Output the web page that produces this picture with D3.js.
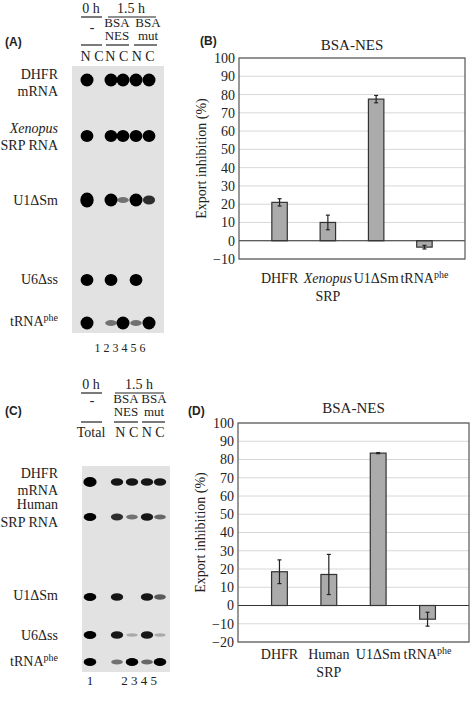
<!DOCTYPE html>
<meta charset="utf-8">
<script src="https://cdn.jsdelivr.net/npm/d3@7"></script>
<style>
body { margin:0; background:#fff; }
text { font-family: "Liberation Serif", "Times New Roman", Tinos, "DejaVu Serif", serif; fill:#222; }
text.lab { font-family: "Liberation Sans", Arial, sans-serif; font-weight:bold; font-size:12px; }
</style>
<body>
<svg id="fig" width="474" height="715"></svg>
<script>
// ---- bar chart data ----
var catsB = [["DHFR"], ["Xenopus", "SRP"], ["U1\u0394Sm"], ["tRNA"]];
var valsB = [21, 10, 77.5, -3.5];
var errB  = [2, 4, 2, 1];
var catsD = [["DHFR"], ["Human", "SRP"], ["U1\u0394Sm"], ["tRNA"]];
var valsD = [18.5, 17, 83.5, -7.5];
var errD  = [6.5, 11, 0.3, 3.8];

// ---- gel data (band strength per lane) ----
var gelA = [
  [1, 0, 1, 1, 1, 1],
  [0.9, 0, 0.9, 0.9, 0.9, 0.9],
  [1.2, 0, 1, 0.3, 1, 0.6],
  [0.9, 0, 0.9, 0, 0.9, 0],
  [1, 0, 0.3, 1, 0.3, 1]
];
var gelC = [
  [1.1, 0.7, 0.7, 0.7, 0.7],
  [0.8, 0.6, 0.3, 0.7, 0.35],
  [0.8, 0.7, 0, 0.7, 0.4],
  [0.8, 0.7, 0.05, 0.7, 0.05],
  [0.8, 0.3, 0.8, 0.35, 0.8]
];

var svg = d3.select("#fig");

function gel(o) {
  var g = svg.append("g");
  g.append("rect").attr("x", o.x0).attr("y", o.y0)
    .attr("width", o.x1 - o.x0).attr("height", o.y1 - o.y0)
    .attr("fill", "#e2e2e2");
  o.data.forEach(function(row, i) {
    row.forEach(function(d, j) {
      if (d <= 0) return;
      g.append("ellipse")
        .attr("cx", o.laneX[j]).attr("cy", o.rowY[i])
        .attr("rx", o.rx + Math.min(d, 1.2)).attr("ry", 1.5 + o.ry * d)
        .attr("fill", "#000").attr("opacity", Math.min(1, 0.2 + d));
    });
  });
}

gel({x0: 72, x1: 164, y0: 66, y1: 333, laneX: [87, 99, 111, 123, 136, 149],
     rowY: [80, 136, 200, 280, 323], data: gelA, rx: 5.5, ry: 5});
gel({x0: 82, x1: 170, y0: 466, y1: 672, laneX: [90, 117, 132, 147, 160],
     rowY: [482, 517, 597, 635, 662], data: gelC, rx: 5.5, ry: 3.2});

function txt(x, y, s, opts) {
  opts = opts || {};
  var t = svg.append("text").attr("x", x).attr("y", y).text(s)
    .attr("font-size", opts.size || 14)
    .attr("text-anchor", opts.anchor || "middle");
  if (opts.italic) t.attr("font-style", "italic");
  if (opts.cls) t.attr("class", opts.cls);
  return t;
}
function line(x1, y1, x2, y2) {
  svg.append("line").attr("x1", x1).attr("y1", y1).attr("x2", x2).attr("y2", y2)
    .attr("stroke", "#222").attr("stroke-width", 1.2);
}
function tRNA(x, y, anchor) {
  var t = svg.append("text").attr("x", x).attr("y", y).attr("font-size", 14)
    .attr("text-anchor", anchor);
  t.append("tspan").text("tRNA");
  t.append("tspan").text("phe").attr("font-size", 10).attr("dy", -5);
}

// Panel A labels
txt(5, 46, "(A)", {anchor: "start", cls: "lab"});
txt(91, 13, "0 h"); line(81, 17, 102, 17);
txt(131, 13, "1.5 h"); line(108, 17, 156, 17);
txt(92, 32, "-");
txt(117, 27, "BSA", {size: 13}); txt(117, 40, "NES", {size: 13});
txt(148, 27, "BSA", {size: 13}); txt(148, 40, "mut", {size: 13});
line(81, 45, 102, 45); line(106, 45, 129, 45); line(134, 45, 157, 45);
txt(92, 61, "N C"); txt(130, 61, "N C N C");
txt(58, 79, "DHFR", {anchor: "end"}); txt(58, 96, "mRNA", {anchor: "end"});
txt(58, 133, "Xenopus", {anchor: "end", italic: true}); txt(58, 150, "SRP RNA", {anchor: "end"});
txt(58, 205, "U1\u0394Sm", {anchor: "end"});
txt(58, 284, "U6\u0394ss", {anchor: "end"});
tRNA(58, 326, "end");
txt(120, 352, "1  2  3  4  5  6", {size: 12});

// Panel C labels
txt(5, 415, "(C)", {anchor: "start", cls: "lab"});
txt(91, 389, "0 h"); line(81, 393, 102, 393);
txt(139, 389, "1.5 h"); line(115, 393, 164, 393);
txt(92, 405, "-");
txt(126, 403, "BSA", {size: 13}); txt(126, 416, "NES", {size: 13});
txt(154, 403, "BSA", {size: 13}); txt(154, 416, "mut", {size: 13});
line(81, 422, 102, 422); line(114, 422, 138, 422); line(142, 422, 165, 422);
txt(91, 437, "Total"); txt(140, 437, "N C N C");
txt(58, 478, "DHFR", {anchor: "end"}); txt(58, 495, "mRNA", {anchor: "end"});
txt(58, 509, "Human", {anchor: "end"}); txt(58, 527, "SRP RNA", {anchor: "end"});
txt(58, 600, "U1\u0394Sm", {anchor: "end"});
txt(58, 640, "U6\u0394ss", {anchor: "end"});
tRNA(58, 666, "end");
txt(90, 685, "1", {size: 13}); txt(139, 685, "2  3  4  5", {size: 13});

// Bar charts
function barChart(o) {
  var y = d3.scaleLinear().domain(o.domain).range([o.y1, o.y0]);
  var x = d3.scaleBand().domain(d3.range(o.vals.length)).range([o.x0, o.x1]).padding(0.68);
  var g = svg.append("g");
  g.selectAll(".grid").data(y.ticks(o.nt)).enter().append("line")
    .attr("x1", o.x0).attr("x2", o.x1).attr("y1", d => y(d)).attr("y2", d => y(d))
    .attr("stroke", "#d8d8d8");
  g.append("g").attr("transform", "translate(" + o.x0 + ",0)")
    .call(d3.axisLeft(y).ticks(o.nt).tickSize(0).tickPadding(4)
      .tickFormat(d => d < 0 ? "\u2212" + (-d) : d))
    .call(a => a.select(".domain").remove())
    .selectAll("text").attr("font-size", 14).attr("fill", "#222");
  g.selectAll(".bar").data(o.vals).enter().append("rect")
    .attr("x", (d, i) => x(i)).attr("width", x.bandwidth())
    .attr("y", d => y(Math.max(0, d))).attr("height", d => Math.abs(y(d) - y(0)))
    .attr("fill", "#ababab").attr("stroke", "#333").attr("stroke-width", 1.2);
  g.append("line").attr("x1", o.x0).attr("x2", o.x1).attr("y1", y(0)).attr("y2", y(0))
    .attr("stroke", "#333").attr("stroke-width", 1.2);
  o.vals.forEach(function(v, i) {
    var cx = x(i) + x.bandwidth() / 2, e = o.err[i];
    line(cx, y(v + e), cx, y(v - e));
    line(cx - 2, y(v + e), cx + 2, y(v + e)); line(cx - 2, y(v - e), cx + 2, y(v - e));
    var c = o.cats[i];
    if (c[0] === "tRNA") { tRNA(cx, o.ly, "middle"); return; }
    txt(cx, o.ly, c[0], {italic: c[0] === "Xenopus"});
    if (c[1]) txt(cx, o.ly + 18, c[1]);
  });
  g.append("rect").attr("x", o.x0).attr("y", o.y0).attr("width", o.x1 - o.x0)
    .attr("height", o.y1 - o.y0).attr("fill", "none").attr("stroke", "#555").attr("stroke-width", 1.2);
  txt((o.x0 + o.x1) / 2, o.ty, "BSA-NES", {size: 15});
  svg.append("text").attr("transform", "translate(" + (o.x0 - 33) + "," + ((o.y0 + o.y1) / 2) + ") rotate(-90)")
    .attr("text-anchor", "middle").attr("font-size", 14).text("Export inhibition (%)");
}
txt(200, 45, "(B)", {anchor: "start", cls: "lab"});
barChart({x0: 239, x1: 465, y0: 58, y1: 259, domain: [-10, 100], nt: 11,
  vals: valsB, err: errB, cats: catsB, ly: 283, ty: 50});
txt(188, 415, "(D)", {anchor: "start", cls: "lab"});
barChart({x0: 238, x1: 469, y0: 423, y1: 642, domain: [-20, 100], nt: 12,
  vals: valsD, err: errD, cats: catsD, ly: 659, ty: 413});
</script>
</body>
